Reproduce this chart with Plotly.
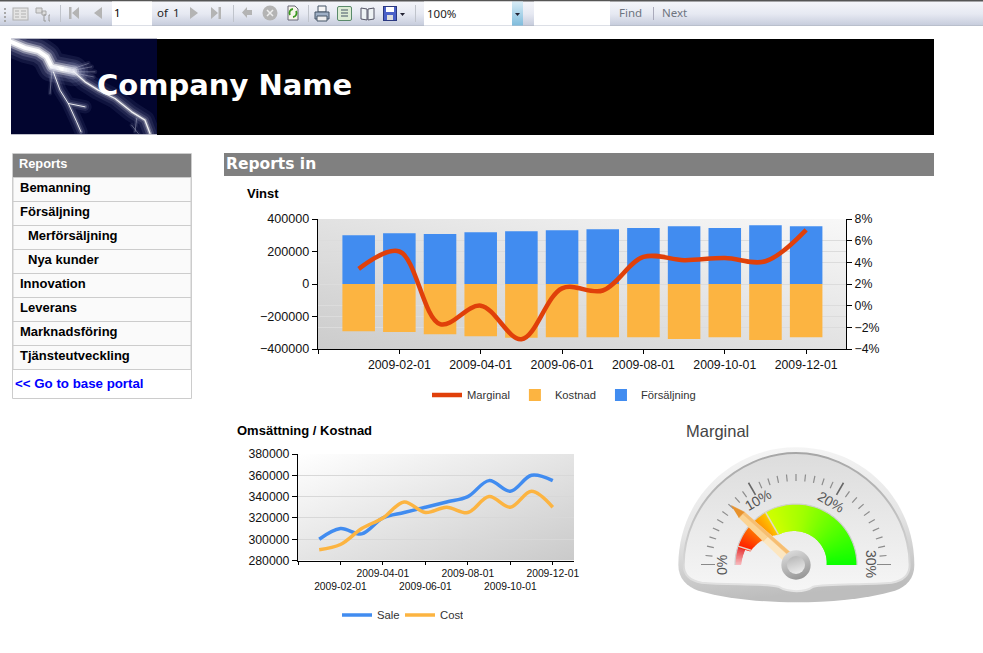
import base64
import numpy as np
import plotly.graph_objects as go

W, H = 983, 653

MONTHS = ["2009-01-01", "2009-02-01", "2009-03-01", "2009-04-01", "2009-05-01", "2009-06-01",
          "2009-07-01", "2009-08-01", "2009-09-01", "2009-10-01", "2009-11-01", "2009-12-01"]
MONTH_POS = list(range(12))

# top chart
FORSALJNING = [300000, 313000, 307000, 319000, 325000, 331000, 337000, 344000, 356000, 344000, 362000, 356000]
KOSTNAD = [-290000, -296000, -309000, -321000, -331000, -327000, -327000, -327000, -339000, -327000, -345000, -327000]
MARGINAL = [3.4, 5.0, -1.7, 0.0, -3.1, 1.6, 1.4, 4.5, 4.2, 4.4, 4.1, 7.0]

# lower chart
SALE = [300000, 310000, 305000, 320000, 325000, 330000, 335000, 340000, 355000, 345000, 360000, 355000]
COST = [290000, 295000, 310000, 320000, 335000, 325000, 330000, 325000, 340000, 330000, 345000, 330000]

# gauge
GAUGE_VALUE = 7.1
GAUGE_LABELS = ["0%", "10%", "20%", "30%"]

MENU_ITEMS = ["Bemanning", "Försäljning", "  Merförsäljning", "  Nya kunder",
              "Innovation", "Leverans", "Marknadsföring", "Tjänsteutveckling"]

BLUE = "#418CF0"
ORANGE = "#FCB441"
RED = "#E0400A"
SANS = "Liberation Sans"
WIDE = "DejaVu Sans"


def px(x):
    return x / W


def py(y):
    return 1 - y / H


def svg_image(svg, x, y, w, h, layer="below"):
    doc = ('<svg xmlns="http://www.w3.org/2000/svg" width="%d" height="%d" viewBox="%s" '
           'preserveAspectRatio="none">%s</svg>' % (w, h, svg[0], svg[1]))
    uri = "data:image/svg+xml;base64," + base64.b64encode(doc.encode()).decode()
    return dict(source=uri, xref="paper", yref="paper", x=px(x), y=py(y), sizex=w / W, sizey=h / H,
                xanchor="left", yanchor="top", sizing="stretch", layer=layer)


def gradient_panel(x1, y1, x2, y2, c1, c2):
    return ("0 0 10 10",
            '<defs><linearGradient id="g" x1="%s" y1="%s" x2="%s" y2="%s">'
            '<stop offset="0" stop-color="%s"/><stop offset="1" stop-color="%s"/></linearGradient></defs>'
            '<rect width="10" height="10" fill="url(#g)"/>' % (x1, y1, x2, y2, c1, c2))


def glow(path, strokes):
    # no blur filter in the image, so the glow is a stack of wide see-through strokes
    return "".join('<path d="%s" fill="none" stroke="%s" stroke-width="%s" opacity="%s" '
                   'stroke-linejoin="round" stroke-linecap="round"/>' % (path, c, w, o) for c, w, o in strokes)


BOLT_MAIN = "M18 20L60 38L100 48L125 65L140 95L205 108"
BOLT_TAIL = "M205 108L240 140L280 165L330 190L380 230L420 255L435 295"
BOLT_FORK = "M145 110L165 165L190 205L215 260L228 290M190 205L240 215"
BOLT_FAN = "M205 105L260 95M205 100L250 85M210 110L270 110M215 115L265 125"
BOLT_THIN = "M140 110L135 175M380 270L400 295M395 250L390 290"

TOOLBAR_SVG = ("0 0 983 27", """
<defs><linearGradient id="t" x1="0" y1="0" x2="0" y2="1">
<stop offset="0" stop-color="#f6f7fb"/><stop offset="0.55" stop-color="#e6e9f2"/><stop offset="1" stop-color="#c6ccdc"/>
</linearGradient>
<linearGradient id="d" x1="0" y1="0" x2="0" y2="1"><stop offset="0" stop-color="#d8ecf6"/><stop offset="1" stop-color="#7fbcdc"/></linearGradient></defs>
<rect width="983" height="25.5" fill="url(#t)"/><rect width="983" height="1.5" fill="#555"/>
<rect y="25" width="983" height="1" fill="#b9bfcc"/>
<g fill="#a8a8a8"><rect x="4" y="8" width="2" height="2"/><rect x="4" y="12" width="2" height="2"/><rect x="4" y="16" width="2" height="2"/><rect x="4" y="20" width="2" height="2"/></g>
<rect x="13" y="8" width="15" height="12" fill="#e4e4e4" stroke="#b0b0b0"/><path d="M15 11h4M15 14h4M15 17h4M21 11h5M21 14h5M21 17h5" stroke="#b0b0b0"/>
<path d="M36 8h6v5h-6zM42 11h4v4h-4z" fill="#ddd" stroke="#a8a8a8"/><path d="M44 20v-5h2M50 15h-1v6h1M46 21h-2v-1" fill="none" stroke="#999"/>
<g stroke="#c0c4cc"><path d="M60.5 5v17M233.5 5v17M308.5 5v17M415.5 5v17"/></g>
<rect x="112" y="1.5" width="40" height="24" fill="#fff"/>
<rect x="424" y="1.5" width="88" height="24" fill="#fff"/><rect x="512" y="1.5" width="11" height="24" fill="url(#d)"/>
<path d="M515 13h5l-2.500 3z" fill="#223"/>
<rect x="534" y="1.5" width="76" height="24" fill="#fff"/>
<path d="M653.500 7v13" stroke="#aab"/>
<g fill="#b4b4b4"><rect x="69" y="7" width="2.500" height="12"/><path d="M79 7v12l-7-6zM102 7v12l-8-6zM190 7v12l8-6zM211 7v12l7-6z"/><rect x="218.500" y="7" width="2.500" height="12"/>
<path d="M252 10v5h-5v3l-5-5.500l5-5.500v3z"/><circle cx="270" cy="13" r="7.500"/></g>
<path d="M267 10l6 6M273 10l-6 6" stroke="#eee" stroke-width="1.500"/>
<path d="M288 6h7l3 3v11h-10z" fill="#f6f6ea" stroke="#667"/><path d="M293 9a4 4 0 0 0-3 6M293 17a4 4 0 0 0 3-6" stroke="#3a9a20" stroke-width="1.800" fill="none"/>
<path d="M318 6h8v6h-8z" fill="#f5f5f5" stroke="#456"/><path d="M315 12h14v7h-14z" fill="#9fb0c6" stroke="#456"/><path d="M317 16h10v5h-10z" fill="#eee" stroke="#456"/>
<rect x="337.500" y="6.500" width="14" height="14" rx="1.500" fill="#dcecd4" stroke="#5a8a6a"/><path d="M341 10h7M341 13h7M341 16h7" stroke="#456"/>
<path d="M361 8l6 1v11l-6-1zM374 8l-6 1v11l6-1z" fill="#eef2f4" stroke="#556"/>
<rect x="383.500" y="6.500" width="13" height="14" fill="#4a60c8" stroke="#2a3880"/><rect x="386" y="7" width="8" height="5" fill="#fff"/><rect x="387" y="15" width="6" height="5" fill="#ddd"/>
<path d="M400 13h5l-2.500 3z" fill="#223"/>
""")

LIGHTNING_SVG = ("18 10 438 288", (
    '<rect x="18" y="10" width="438" height="288" fill="#02052f"/>'
    + glow(BOLT_MAIN, [("#8a90c0", 90, 0.12), ("#a8acd0", 70, 0.15), ("#c8cae0", 50, 0.2), ("#ffffff", 34, 0.35), ("#ffffff", 22, 0.6), ("#ffffff", 12, 1)])
    + glow(BOLT_TAIL, [("#8a90c0", 60, 0.1), ("#a8acd0", 40, 0.12), ("#c8cae0", 24, 0.18), ("#ffffff", 12, 0.3), ("#ffffff", 4, 0.9)])
    + glow(BOLT_FORK, [("#8a90c0", 40, 0.1), ("#a8acd0", 24, 0.14), ("#c8cae0", 12, 0.25), ("#ffffff", 3, 0.9)])
    + glow(BOLT_FAN, [("#a8acd0", 14, 0.14), ("#d0d2e4", 2, 0.55)])
    + glow(BOLT_THIN, [("#a8acd0", 12, 0.12), ("#d0d2e4", 2, 0.6)])))

GAUGE_BODY_SVG = ("0 0 795 600", """
<defs>
<linearGradient id="o" x1="0" y1="0" x2="0.15" y2="1"><stop offset="0" stop-color="#f6f6f6"/><stop offset="0.55" stop-color="#e6e6e6"/><stop offset="1" stop-color="#bdbdbd"/></linearGradient>
<linearGradient id="f" x1="0" y1="0" x2="0" y2="1"><stop offset="0" stop-color="#dcdcdc"/><stop offset="1" stop-color="#f6f6f6"/></linearGradient>
<linearGradient id="s" x1="0" y1="0" x2="0" y2="1"><stop offset="0" stop-color="#a6a6a6"/><stop offset="0.7" stop-color="#d0d0d0"/><stop offset="1" stop-color="#e4e4e4"/></linearGradient>
</defs>
<path d="M40 450C40 250 200 97 393 97C590 97 748 250 748 450C748 490 725 515 690 527C600 553 490 562 393 562C300 562 190 553 100 527C65 515 40 490 40 450Z" fill="url(#o)"/>
<path d="M56 450C56 270 215 114 393 114C570 114 734 270 734 450C734 480 715 497 680 503C600 510 480 505 445 515C420 533 370 533 340 515C300 505 190 510 110 503C75 497 56 480 56 450Z" fill="url(#f)" stroke="url(#s)" stroke-width="6"/>
""")

GAUGE_HUB_SVG = ("348 405 90 90", """
<defs><linearGradient id="h1" x1="0.2" y1="0" x2="0.6" y2="1"><stop offset="0" stop-color="#dedede"/><stop offset="1" stop-color="#969696"/></linearGradient>
<linearGradient id="h2" x1="0.3" y1="0" x2="0.6" y2="1"><stop offset="0" stop-color="#b8b8b8"/><stop offset="1" stop-color="#ececec"/></linearGradient></defs>
<circle cx="393" cy="450" r="44" fill="url(#h1)"/><circle cx="393" cy="450" r="27" fill="url(#h2)"/>
""")

images = [
    svg_image(TOOLBAR_SVG, 0, 0, 983, 27),
    svg_image(LIGHTNING_SVG, 11, 38.5, 146, 96),
    svg_image(gradient_panel(0, 1, 1, 0, "#cccccc", "#f8f8f8"), 318, 219, 528, 130),
    svg_image(gradient_panel(0, 0, 1, 1, "#ffffff", "#cacaca"), 298, 454, 276, 106.5),
    svg_image(GAUGE_BODY_SVG, 665, 415, 265, 200),
    svg_image(GAUGE_HUB_SVG, 781, 550, 30, 30, layer="above"),
]


def rect(x0, y0, x1, y1, fill, line=None):
    return dict(type="rect", xref="paper", yref="paper", x0=px(x0), x1=px(x1), y0=py(y0), y1=py(y1),
                fillcolor=fill, line=dict(color=line or fill, width=1 if line else 0), layer="below")


shapes = [
    rect(157, 39, 934, 135, "#000000"),
    rect(224, 153, 934, 176, "#808080"),
    rect(12.5, 153.5, 191.5, 398.5, "#ffffff", "#cccccc"),
    rect(13, 154, 191, 177, "#808080"),
]
for i, item in enumerate(MENU_ITEMS):
    shapes.append(rect(13, 177.5 + 24 * i, 191, 201.5 + 24 * i, "#fafafa", "#cccccc"))


def label(x, y, text, size, color="#000000", bold=False, family=SANS, anchor="left", angle=0):
    if bold:
        text = "<b>" + text + "</b>"
    if anchor == "left":
        x -= 1.5  # annotation box has a little padding
    return dict(xref="paper", yref="paper", x=px(x), y=py(y), text=text, showarrow=False, xanchor=anchor,
                yanchor="middle", textangle=angle, borderpad=0, font=dict(family=family, size=size, color=color))


annotations = [
    label(97, 85, "Company Name", 29, "#ffffff", True, WIDE),
    label(226, 164, "Reports in", 15.5, "#ffffff", True, WIDE),
    label(19, 163, "Reports", 12.8, "#ffffff", True),
    label(15, 383, "&lt;&lt; Go to base portal", 13.3, "#0000ff", True),
    label(247, 193, "Vinst", 13, "#000000", True),
    label(237, 430, "Omsättning / Kostnad", 13, "#000000", True),
    label(686, 431, "Marginal", 16.5, "#444444"),
    label(114, 13, "1", 11.5, "#000000", family="Noto Sans"),
    label(157, 13, "of", 11.5, "#222222", family="Noto Sans"),
    label(173, 13, "1", 11.5, "#222222", family="Noto Sans"),
    label(427, 14, "100%", 11.5, "#222222", family="Noto Sans"),
    label(619, 13, "Find", 11.5, "#6e7480", family="Noto Sans"),
    label(662, 13, "Next", 11.5, "#6e7480", family="Noto Sans"),
    label(722, 565, GAUGE_LABELS[0], 14, "#555555", anchor="center", angle=-90),
    label(758, 500, GAUGE_LABELS[1], 14, "#555555", anchor="center", angle=-30),
    label(831, 502, GAUGE_LABELS[2], 14, "#555555", anchor="center", angle=30),
    label(871, 564, GAUGE_LABELS[3], 14, "#555555", anchor="center", angle=90),
]
for i, item in enumerate(MENU_ITEMS):
    sub = item.startswith("  ")
    annotations.append(label(28.5 if sub else 20.5, 187.5 + 24 * i, item.strip(), 13, "#000000", True))

fig = go.Figure()

# top chart
fig.add_trace(go.Bar(x=MONTH_POS, y=FORSALJNING, name="Försäljning", marker=dict(color=BLUE, line_width=0),
                     width=0.8, legendrank=3, xaxis="x", yaxis="y"))
fig.add_trace(go.Bar(x=MONTH_POS, y=KOSTNAD, name="Kostnad", marker=dict(color=ORANGE, line_width=0),
                     width=0.8, legendrank=2, xaxis="x", yaxis="y"))
fig.add_trace(go.Scatter(x=MONTH_POS, y=MARGINAL, name="Marginal", mode="lines",
                         line=dict(color=RED, width=4.5, shape="spline", smoothing=1.0),
                         legendrank=1, xaxis="x", yaxis="y2"))

# lower chart
fig.add_trace(go.Scatter(x=MONTH_POS, y=SALE, name="Sale", mode="lines", legend="legend2",
                         line=dict(color=BLUE, width=3.5, shape="spline", smoothing=1.0), xaxis="x2", yaxis="y3"))
fig.add_trace(go.Scatter(x=MONTH_POS, y=COST, name="Cost", mode="lines", legend="legend2",
                         line=dict(color=ORANGE, width=3.5, shape="spline", smoothing=1.0), xaxis="x2", yaxis="y3"))

# gauge, radial units are screen pixels because the polar domain is 250 px wide for a range of 125
DEG = 6.0
band_vals = np.arange(0, 30.01, 0.25)
band_inner = np.where(band_vals < 3, np.interp(band_vals, [0, 3], [55, 53]),
                      np.where(band_vals < 10, np.interp(band_vals, [3, 10], [47.5, 35]),
                               np.interp(band_vals, [10, 30], [35, 30.7])))
fig.add_trace(go.Barpolar(
    theta=band_vals * DEG, r=61 - band_inner, base=band_inner, width=3.2, subplot="polar", showlegend=False,
    marker=dict(color=band_vals, cmin=0, cmax=30, line_width=0,
                colorscale=[[0, "#f8c4c8"], [0.098, "#e83838"], [0.1, "#ff1c00"], [0.22, "#ff7400"],
                            [0.333, "#ffc400"], [0.334, "#d2ff00"], [0.55, "#a0ff00"], [1, "#0cff00"]])))
arc_deg = list(range(0, 181, 3))
fig.add_trace(go.Scatterpolar(theta=arc_deg, r=[61] * len(arc_deg), mode="lines", subplot="polar",
                              showlegend=False, line=dict(color="#cfcfcf", width=1.2)))
for edge, r0, r1 in [(3, 47.5, 61), (10, 35, 61)]:
    fig.add_trace(go.Scatterpolar(theta=[edge * DEG] * 2, r=[r0, r1], mode="lines", subplot="polar",
                                  showlegend=False, line=dict(color="#e4d8c8", width=1.5)))

minor_t, minor_r, major_t, major_r = [], [], [], []
for v in range(0, 31):
    if v % 10 == 0:
        major_t += [v * DEG, v * DEG, None]
        major_r += [81, 95, None]
    else:
        minor_t += [v * DEG, v * DEG, None]
        minor_r += [84, 91, None]
fig.add_trace(go.Scatterpolar(theta=minor_t, r=minor_r, mode="lines", subplot="polar", showlegend=False,
                              line=dict(color="#8c8c8c", width=1.2)))
fig.add_trace(go.Scatterpolar(theta=major_t, r=major_r, mode="lines", subplot="polar", showlegend=False,
                              line=dict(color="#666666", width=1.6)))


def needle(points, color):
    t0 = GAUGE_VALUE * DEG
    th = [t0 + np.degrees(np.arctan2(w, d)) for d, w in points]
    rr = [float(np.hypot(d, w)) for d, w in points]
    fig.add_trace(go.Scatterpolar(theta=th, r=rr, mode="lines", fill="toself", fillcolor=color, subplot="polar",
                                  showlegend=False, line=dict(color=color, width=0.5)))


needle([(8, -5.5), (8, 5.5), (40, 5), (40, -5)], "#FCE6C0")
needle([(40, -5), (40, 5), (74, 4), (74, -4)], "#FBD494")
needle([(8, 5.5), (74, 4), (74, 1.5), (8, 2)], "#F6BE72")
needle([(74, -4), (74, 4), (88, 0)], "#E8922C")

tick_pos = [-1, 1, 3, 5, 7, 9, 11]
lower_text = [""] + [MONTHS[i] if i in (3, 7, 11) else "<br>" + MONTHS[i] for i in tick_pos[1:]]

fig.update_layout(
    width=W, height=H, margin=dict(l=0, r=0, t=0, b=0, autoexpand=False), autosize=False,
    paper_bgcolor="white", plot_bgcolor="rgba(0,0,0,0)",
    font=dict(family=SANS, size=12, color="#111111"),
    barmode="relative", hovermode=False, images=images, shapes=shapes, annotations=annotations,
    xaxis=dict(domain=[px(318), px(846)], range=[-1, 11.98], anchor="y", tickmode="array", tickvals=tick_pos,
               ticktext=[""] + [MONTHS[i] for i in tick_pos[1:]], ticks="outside", ticklen=4, showgrid=False,
               zeroline=False, showline=True, linecolor="#000000", linewidth=1.2, tickcolor="#000000",
               tickfont=dict(size=12.3)),
    yaxis=dict(domain=[py(349), py(219)], range=[-400000, 400000], dtick=200000, anchor="x", ticks="outside",
               ticklen=5, gridcolor="#dcdcdc", zeroline=False, showline=True, linecolor="#000000", linewidth=1.2,
               tickcolor="#000000", tickformat="d", tickfont=dict(size=12.6)),
    yaxis2=dict(domain=[py(349), py(219)], range=[-4, 8], dtick=2, anchor="x", overlaying="y", side="right",
                ticks="outside", ticklen=5, gridcolor="#dcdcdc", zeroline=False, showline=True,
                linecolor="#000000", linewidth=1.2, tickcolor="#000000", ticksuffix="%", tickfont=dict(size=12.3)),
    xaxis2=dict(domain=[px(298), px(574)], range=[-1, 12], anchor="y3", tickmode="array", tickvals=tick_pos,
                ticktext=lower_text, ticks="outside", ticklen=3, showgrid=False, zeroline=False, showline=True,
                linecolor="#000000", linewidth=1.2, tickcolor="#000000", tickfont=dict(size=10.3), tickangle=0),
    yaxis3=dict(domain=[py(560.5), py(454)], range=[280000, 380000], dtick=20000, anchor="x2", ticks="outside",
                ticklen=5, gridcolor="#d8d8d8", zeroline=False, showline=True, linecolor="#000000", linewidth=1.2,
                tickcolor="#000000", tickformat="d", tickfont=dict(size=12.3)),
    legend=dict(orientation="h", x=px(564), y=py(395), xanchor="center", yanchor="middle",
                bgcolor="rgba(0,0,0,0)", font=dict(size=11.2, color="#333333"), traceorder="normal"),
    legend2=dict(orientation="h", x=px(400), y=py(615), xanchor="center", yanchor="middle", entrywidth=18,
                 bgcolor="rgba(0,0,0,0)", font=dict(size=11.3, color="#333333")),
    polar=dict(domain=dict(x=[px(671), px(921)], y=[py(565), py(440)]), sector=[0, 180], bgcolor="rgba(0,0,0,0)",
               radialaxis=dict(range=[0, 125], visible=False),
               angularaxis=dict(rotation=180, direction="clockwise", thetaunit="degrees", visible=False)),
    showlegend=True,
)

fig.write_html("out.html", config={"displayModeBar": False},
               post_script="document.body.style.margin='0';document.body.style.overflow='hidden';")
